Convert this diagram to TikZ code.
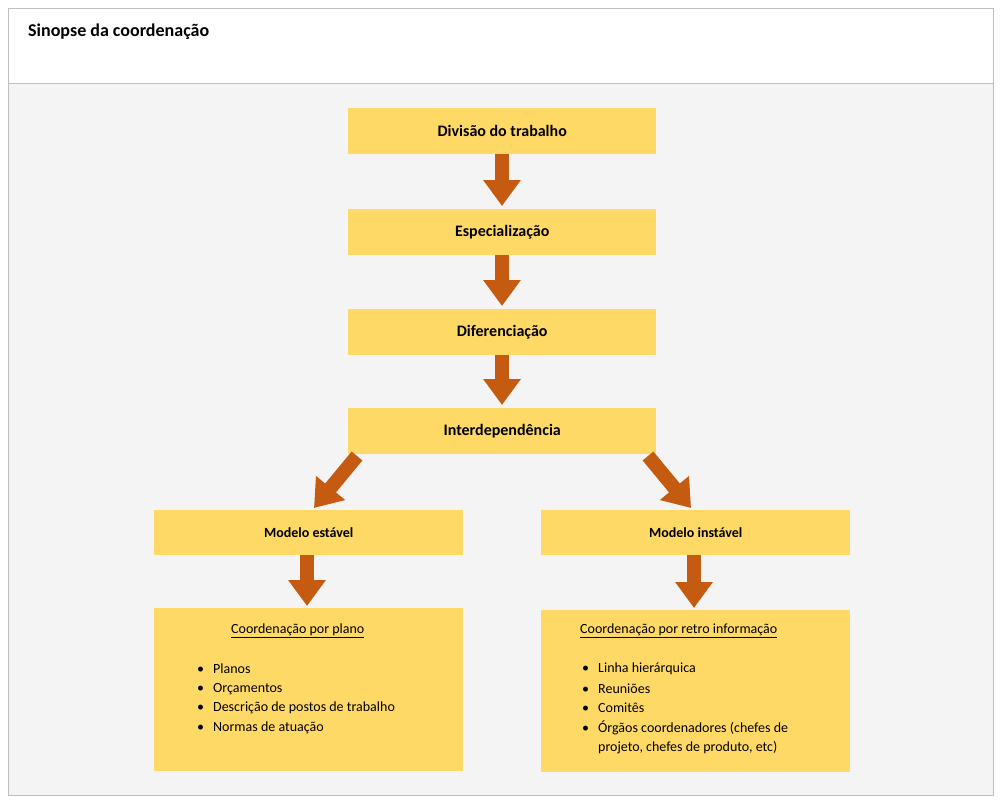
\documentclass[tikz,border=0pt]{standalone}
\usepackage{fontspec}
\setmainfont{Carlito}
\usetikzlibrary{arrows.meta}
\definecolor{boxy}{HTML}{FFD966}
\definecolor{arr}{HTML}{C55A11}
\definecolor{bg}{HTML}{F4F4F4}
\begin{document}
\begin{tikzpicture}[x=1pt,y=-1pt,
  box/.style={fill=boxy,draw=none,inner sep=0,anchor=north west},
  big/.style={font=\fontsize{16}{19}\selectfont\bfseries},
  mid/.style={font=\fontsize{14}{17}\selectfont\bfseries},
  txt/.style={font=\fontsize{14}{17}\selectfont,anchor=west,inner sep=0},
  barr/.style={draw=arr,line width=14pt,-{Triangle[width=36pt,length=26pt]},shorten >=0pt}]
\useasboundingbox (0,0) rectangle (1000,800);
\fill[white] (0,0) rectangle (1000,800);
\draw[gray!50,fill=white] (8,8) rectangle (993,83);
\draw[gray!50,fill=bg] (8,83) rectangle (993,795);
\node[anchor=west,inner sep=0,font=\fontsize{18}{21}\selectfont\bfseries] (title) at (28,32) {Sinopse da coordenação};
\node[box,big,minimum width=308,minimum height=46] (b1) at (348,108) {Divisão do trabalho};
\node[box,big,minimum width=308,minimum height=46] (b2) at (348,209) {Especialização};
\node[box,big,minimum width=308,minimum height=46] (b3) at (348,309) {Diferenciação};
\node[box,big,minimum width=308,minimum height=46] (b4) at (348,408) {Interdependência};
\node[box,mid,minimum width=309,minimum height=45] (ml) at (154,510) {Modelo estável};
\node[box,mid,minimum width=309,minimum height=45] (mr) at (541,510) {Modelo instável};
\node[box,minimum width=309,minimum height=163] (cl) at (154,608) {};
\node[box,minimum width=309,minimum height=162] (cr) at (541,610) {};
\draw[barr] (502,154) -- (502,206);
\draw[barr] (502,255) -- (502,306);
\draw[barr] (502,355) -- (502,405);
\draw[barr] (357,456) -- (314,508);
\draw[barr] (648,456) -- (691,508);
\draw[barr] (307,555) -- (307,606);
\draw[barr] (694,555) -- (694,608);
\node[txt] (tl) at (231,631) {\underline{Coordenação por plano}};
\node[txt] (l1) at (197,669) {•\hspace{9pt}Planos};
\node[txt] (l2) at (197,689) {•\hspace{9pt}Orçamentos};
\node[txt] (l3) at (197,708) {•\hspace{9pt}Descrição de postos de trabalho};
\node[txt] (l4) at (197,728) {•\hspace{9pt}Normas de atuação};
\node[txt] (tr) at (580,631) {\underline{Coordenação por retro informação}};
\node[txt] (r1) at (582,669) {•\hspace{9pt}Linha hierárquica};
\node[txt] (r2) at (582,689) {•\hspace{9pt}Reuniões};
\node[txt] (r3) at (582,708) {•\hspace{9pt}Comitês};
\node[txt] (r4) at (582,728) {•\hspace{9pt}Órgãos coordenadores (chefes de};
\node[txt] (r5) at (598,748) {projeto, chefes de produto, etc)};
\end{tikzpicture}
\end{document}
